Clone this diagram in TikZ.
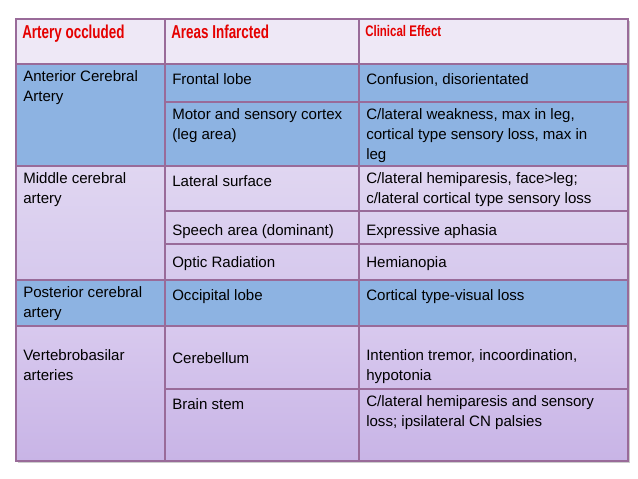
\documentclass[tikz,border=0pt]{standalone}
\usepackage{fontspec}
\setmainfont{Liberation Sans}
\begin{document}
\begin{tikzpicture}[x=0.75pt,y=-0.75pt,
  cell/.style={anchor=north west,inner sep=0pt,align=left,font=\fontsize{11.3}{15}\selectfont,execute at begin node=\strut},
  head/.style={anchor=north west,inner sep=0pt,text=red!90!black,font=\bfseries\fontsize{14}{15}\selectfont,execute at begin node=\strut},
  grid/.style={draw=violet!45!gray!80,line width=0.8pt}]
\definecolor{hdr}{HTML}{EEE8F6}
\definecolor{blu}{HTML}{8DB3E2}
\definecolor{lavT}{HTML}{E0D6F1}
\definecolor{lavB}{HTML}{D6C9ED}
\definecolor{purT}{HTML}{D8C9EE}
\definecolor{purB}{HTML}{C8B4E6}
\useasboundingbox (0,0) rectangle (638,478);
\fill[white] (0,0) rectangle (638,478);
\fill[gray!40] (18,21) rectangle (630,463);
\fill[hdr] (16,19) rectangle (628,64);
\fill[blu] (16,64) rectangle (628,166);
\shade[top color=lavT,bottom color=lavB] (16,166) rectangle (628,280);
\fill[blu] (16,280) rectangle (628,326);
\shade[top color=purT,bottom color=purB] (16,326) rectangle (628,461);
% grid
\draw[grid] (16,19) rectangle (628,461);
\draw[grid] (165,19) -- (165,461);
\draw[grid] (359,19) -- (359,461);
\foreach \y in {64,166,280,326} \draw[grid] (16,\y) -- (628,\y);
\foreach \y in {102,211,244,389} \draw[grid] (165,\y) -- (628,\y);
% header
\node[head] (h1) at (22,24) {\scalebox{0.72}[1]{Artery occluded}};
\node[head] (h2) at (171,24) {\scalebox{0.72}[1]{Areas Infarcted}};
\node[head,font=\bfseries\fontsize{11.5}{15}\selectfont] (h3) at (365,22) {\scalebox{0.75}[1]{Clinical Effect}};
% rows
\node[cell] (a1) at (23,70) {Anterior Cerebral\\Artery};
\node[cell] (a2) at (172,70) {Frontal lobe};
\node[cell] (a3) at (366,70) {Confusion, disorientated};
\node[cell] (b2) at (172,108) {Motor and sensory cortex\\(leg area)};
\node[cell] (b3) at (366,108) {C/lateral weakness, max in leg,\\cortical type sensory loss, max in\\leg};
\node[cell] (c1) at (23,172) {Middle cerebral\\artery};
\node[cell] (c2) at (172,172) {Lateral surface};
\node[cell] (c3) at (366,172) {C/lateral hemiparesis, face>leg;\\c/lateral cortical type sensory loss};
\node[cell] (d2) at (172,221) {Speech area (dominant)};
\node[cell] (d3) at (366,221) {Expressive aphasia};
\node[cell] (e2) at (172,253) {Optic Radiation};
\node[cell] (e3) at (366,253) {Hemianopia};
\node[cell] (f1) at (23,286) {Posterior cerebral\\artery};
\node[cell] (f2) at (172,286) {Occipital lobe};
\node[cell] (f3) at (366,286) {Cortical type-visual loss};
\node[cell] (g1) at (23,349) {Vertebrobasilar\\arteries};
\node[cell] (g2) at (172,349) {Cerebellum};
\node[cell] (g3) at (366,349) {Intention tremor, incoordination,\\hypotonia};
\node[cell] (k2) at (172,395) {Brain stem};
\node[cell] (k3) at (366,395) {C/lateral hemiparesis and sensory\\loss; ipsilateral CN palsies};
\end{tikzpicture}
\end{document}
